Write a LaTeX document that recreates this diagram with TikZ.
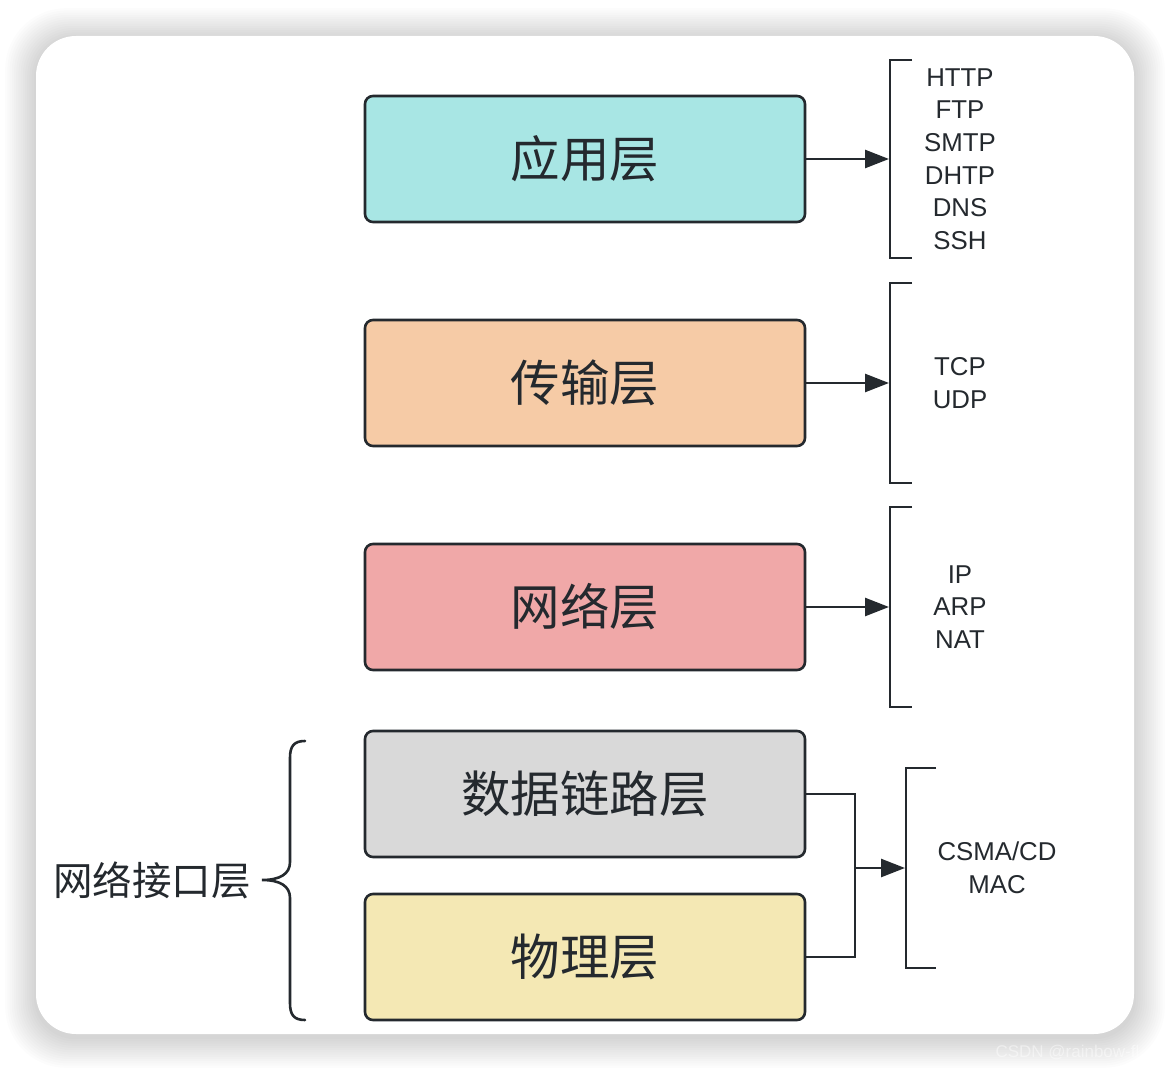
\documentclass[tikz,border=0pt]{standalone}
\usepackage{fontspec}
\setmainfont{Liberation Sans}
\newfontfamily\cjk{Noto Sans CJK SC}
\usetikzlibrary{arrows.meta}
\definecolor{ink}{HTML}{24292E}
\definecolor{cApp}{HTML}{A8E6E4}
\definecolor{cTra}{HTML}{F6CBA6}
\definecolor{cNet}{HTML}{F0A8A8}
\definecolor{cDl}{HTML}{D9D9D9}
\definecolor{cPh}{HTML}{F4E8B4}
\begin{document}
\begin{tikzpicture}[x=1pt,y=-1pt,
  layer/.style={draw=ink,line width=2.6pt,rounded corners=8pt,minimum width=440pt,minimum height=126pt,inner sep=0pt,outer sep=0pt,font=\cjk\fontsize{49.5}{56}\selectfont,text=ink},
  conn/.style={draw=ink,line width=2.6pt},
  arr/.style={conn,-{Triangle[length=24pt,width=18pt]}},
  brk/.style={draw=ink,line width=2.6pt},
  proto/.style={align=center,font=\fontsize{25.8}{32.6}\selectfont,text=ink,inner sep=0pt}]
\useasboundingbox (0,0) rectangle (1170,1070);
\fill[white] (0,0) rectangle (1170,1070);
% shadow
\foreach \i in {1,...,14}{
  \fill[black,opacity=0.01,rounded corners={40pt+\i*1.5pt}] ({36-\i*2.2},{36-\i*2.2+3}) rectangle ({1134+\i*2.2},{1034+\i*2.2+3});
}
\fill[white,rounded corners=40pt] (36,36) rectangle (1134,1034);
\node[text=white,opacity=0.45,font=\fontsize{17}{20}\selectfont,anchor=west] (wm) at (992,1053) {CSDN @rainbow-fl};
% layers
\node[layer,fill=cApp] (app) at (585,159) {应用层};
\node[layer,fill=cTra] (tra) at (585,383) {传输层};
\node[layer,fill=cNet] (net) at (585,607) {网络层};
\node[layer,fill=cDl] (dl) at (585,794) {数据链路层};
\node[layer,fill=cPh] (ph) at (585,957) {物理层};
% brackets
\draw[brk] (912,60) -- (890,60) -- (890,258) -- (912,258);
\draw[brk] (912,283) -- (890,283) -- (890,483) -- (912,483);
\draw[brk] (912,507) -- (890,507) -- (890,707) -- (912,707);
\draw[brk] (936,768) -- (906,768) -- (906,968) -- (936,968);
\coordinate (b1) at (889,159);
\coordinate (b2) at (889,383);
\coordinate (b3) at (889,607);
\coordinate (b4) at (905,868);
\coordinate (j) at (855,868);
% labels
\node[proto] (p1) at (960,159) {HTTP\\FTP\\SMTP\\DHTP\\DNS\\SSH};
\node[proto] (p2) at (960,383) {TCP\\UDP};
\node[proto] (p3) at (960,607) {IP\\ARP\\NAT};
\node[proto] (p4) at (997,868) {CSMA/CD\\MAC};
% arrows
\draw[arr] (app.east) -- (b1);
\draw[arr] (tra.east) -- (b2);
\draw[arr] (net.east) -- (b3);
\draw[conn] (dl.east) -| (j);
\draw[conn] (ph.east) -| (j);
\draw[arr] (j) -- (b4);
% brace
\draw[ink,line width=2.6pt,line cap=round]
  (305,741) .. controls (294,741) and (290,746) .. (290,758)
  -- (290,862) .. controls (290,874) and (280,880) .. (262,880)
  .. controls (280,880) and (290,886) .. (290,898)
  -- (290,1003) .. controls (290,1015) and (294,1020) .. (305,1020);
\node[font=\cjk\fontsize{39.5}{44}\selectfont,text=ink,inner sep=0pt] (nif) at (152,880) {网络接口层};
\end{tikzpicture}
\end{document}
